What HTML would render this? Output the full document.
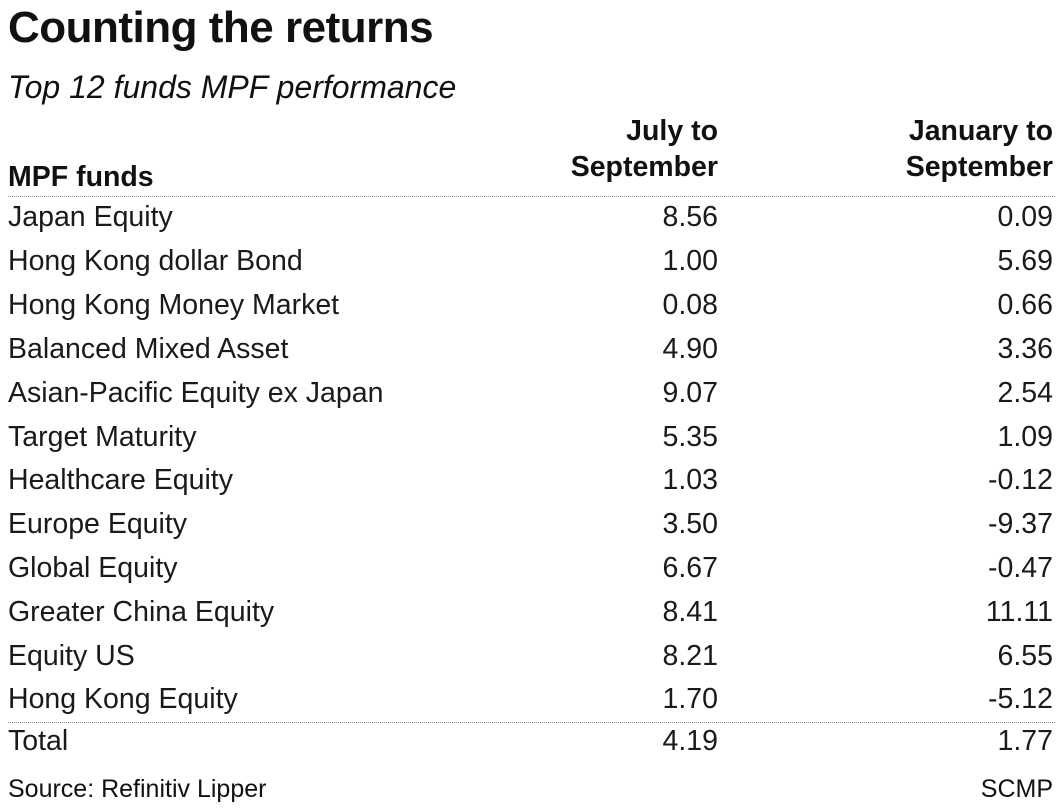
<!DOCTYPE html>
<html><head><meta charset="utf-8"><style>
body{margin:0;width:1063px;height:809px;background:#fff;position:relative;overflow:hidden;font-family:"Liberation Sans",sans-serif;color:#111}
div{position:absolute;white-space:nowrap;line-height:1}
.t{left:8px;top:6px;font-size:44px;font-weight:bold;letter-spacing:-0.5px}
.s{left:8px;top:71px;font-size:32px;font-style:italic}
.h{font-size:28.5px;font-weight:bold}
.r{font-size:28.5px;color:#1a1a1a}
.c1{right:345px;text-align:right}
.c2{right:10px;text-align:right}
.l{left:8px}
.line{left:8px;width:1047px;height:0;border-top:1px dotted #888}
</style></head><body>
<div class="t">Counting the returns</div>
<div class="s">Top 12 funds MPF performance</div>
<div class="h c1" style="top:117px">July to</div>
<div class="h c1" style="top:153px">September</div>
<div class="h c2" style="top:117px">January to</div>
<div class="h c2" style="top:153px">September</div>
<div class="h l" style="top:163px">MPF funds</div>
<div class="line" style="top:196px"></div>
<div class="r l" style="top:203px">Japan Equity</div><div class="r c1" style="top:203px">8.56</div><div class="r c2" style="top:203px">0.09</div>
<div class="r l" style="top:247px">Hong Kong dollar Bond</div><div class="r c1" style="top:247px">1.00</div><div class="r c2" style="top:247px">5.69</div>
<div class="r l" style="top:291px">Hong Kong Money Market</div><div class="r c1" style="top:291px">0.08</div><div class="r c2" style="top:291px">0.66</div>
<div class="r l" style="top:335px">Balanced Mixed Asset</div><div class="r c1" style="top:335px">4.90</div><div class="r c2" style="top:335px">3.36</div>
<div class="r l" style="top:379px">Asian-Pacific Equity ex Japan</div><div class="r c1" style="top:379px">9.07</div><div class="r c2" style="top:379px">2.54</div>
<div class="r l" style="top:423px">Target Maturity</div><div class="r c1" style="top:423px">5.35</div><div class="r c2" style="top:423px">1.09</div>
<div class="r l" style="top:466px">Healthcare Equity</div><div class="r c1" style="top:466px">1.03</div><div class="r c2" style="top:466px">-0.12</div>
<div class="r l" style="top:510px">Europe Equity</div><div class="r c1" style="top:510px">3.50</div><div class="r c2" style="top:510px">-9.37</div>
<div class="r l" style="top:554px">Global Equity</div><div class="r c1" style="top:554px">6.67</div><div class="r c2" style="top:554px">-0.47</div>
<div class="r l" style="top:598px">Greater China Equity</div><div class="r c1" style="top:598px">8.41</div><div class="r c2" style="top:598px">11.11</div>
<div class="r l" style="top:642px">Equity US</div><div class="r c1" style="top:642px">8.21</div><div class="r c2" style="top:642px">6.55</div>
<div class="r l" style="top:685px">Hong Kong Equity</div><div class="r c1" style="top:685px">1.70</div><div class="r c2" style="top:685px">-5.12</div>
<div class="line" style="top:722px"></div>
<div class="r l" style="top:727px">Total</div><div class="r c1" style="top:727px">4.19</div><div class="r c2" style="top:727px">1.77</div>
<div class="l" style="top:777px;font-size:25px">Source: Refinitiv Lipper</div>
<div class="c2" style="top:777px;font-size:25px">SCMP</div>
</body></html>
